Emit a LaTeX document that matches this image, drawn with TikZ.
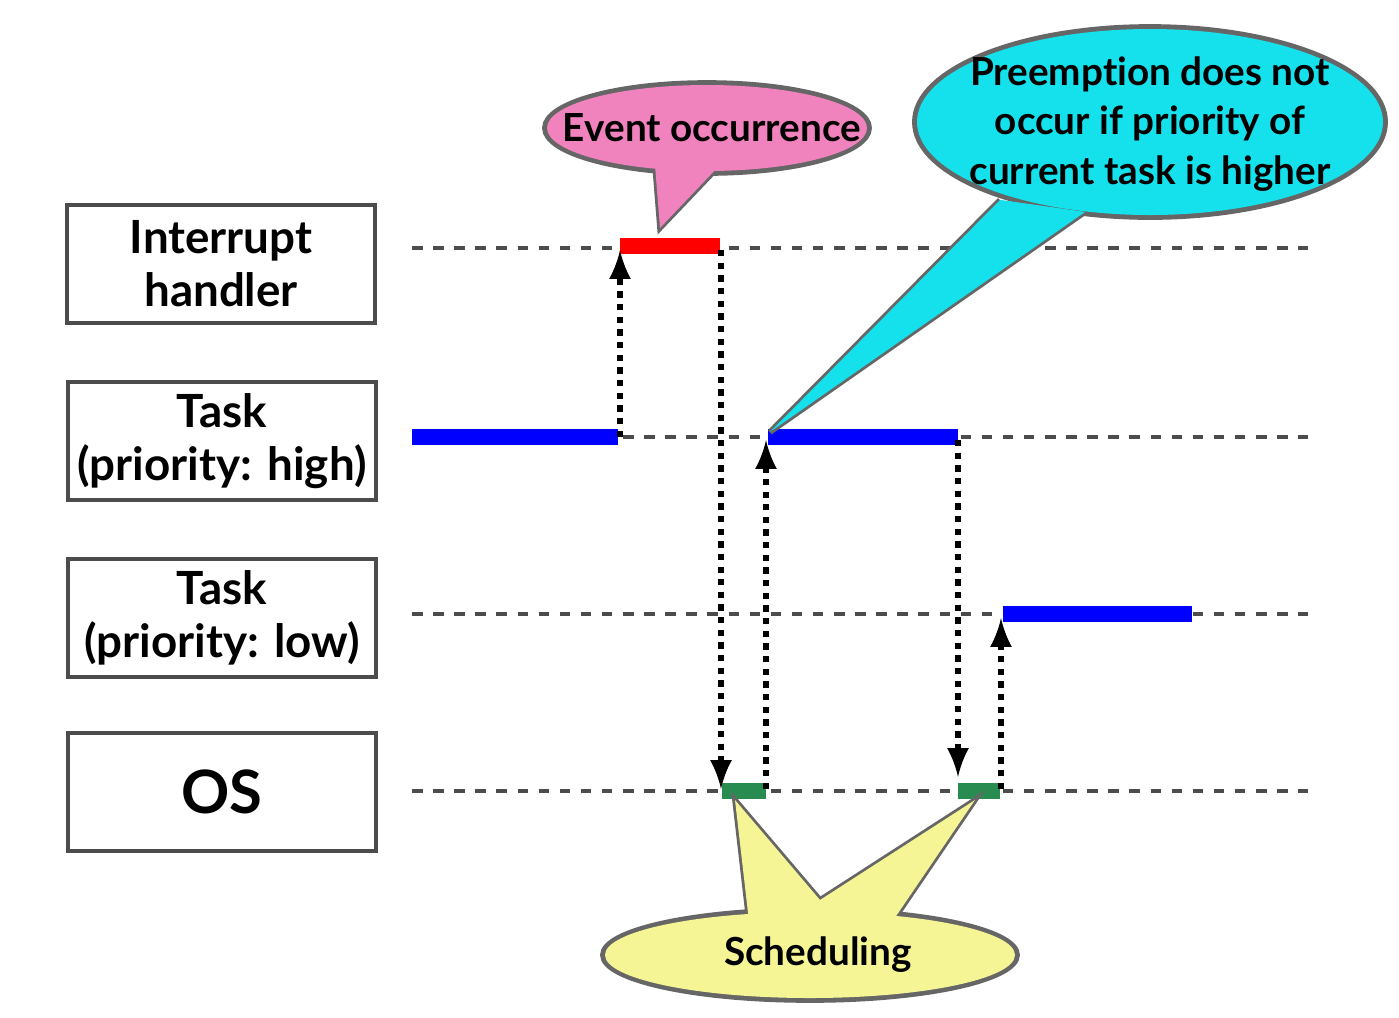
\documentclass[tikz,border=0pt]{standalone}
\usepackage{fontspec}
\setmainfont[Ligatures=NoCommon]{Lato}
\frenchspacing
\usetikzlibrary{shapes.geometric}

\definecolor{evpink}{RGB}{240,130,190}
\definecolor{prcyan}{RGB}{20,225,235}
\definecolor{scyellow}{RGB}{245,245,150}
\definecolor{osgreen}{RGB}{40,140,80}

\tikzset{
  lane/.style={draw=black!70, line width=1.2pt, minimum width=3.08cm, minimum height=1.18cm,
               text width=3cm, align=center, inner sep=0pt, font=\bfseries\fontsize{13}{15}\selectfont},
  guide/.style={black!70, line width=1.1pt, dash pattern=on 3pt off 3pt},
  bar/.style={line width=4.5pt},
  hop/.style={black, line width=1.8pt, dash pattern=on 1.8pt off 1.8pt, -latex},
  bubble/.style={ellipse, draw=black!60, line width=1.6pt, inner sep=0pt},
  say/.style={font=\bfseries\fontsize{11}{14}\selectfont, align=center}
}

\begin{document}
\begin{tikzpicture}[x=0.01cm, y=-0.01cm]
\useasboundingbox (0,0) rectangle (1399,1017);

% lane labels
\node[lane] (irq)  at (221,264) {Interrupt\\handler};
\node[lane] (high) at (222,441) {Task\\(priority: high)};
\node[lane] (low)  at (222,618) {Task\\(priority: low)};
\node[lane] (os)   at (222,792) {\fontsize{17}{19}\selectfont OS};

\foreach \y in {248, 437, 614, 791}
    \draw[guide] (412,\y) -- (1308,\y);

% time line
\draw[bar, red]     (620,246) -- (720,246);
\draw[bar, blue]    (412,437) -- (618,437);
\draw[bar, blue]    (768,437) -- (958,437);
\draw[bar, blue]    (1003,614) -- (1192,614);
\draw[bar, osgreen] (722,791) -- (766,791);
\draw[bar, osgreen] (958,791) -- (1000,791);

\draw[hop] (620,437) -- (620,250);
\draw[hop] (721,250) -- (721,789);
\draw[hop] (766,789) -- (766,440);
\draw[hop] (958,440) -- (958,777);
\draw[hop] (1001,789) -- (1001,618);

% callouts
\coordinate (evtip) at (660,228);
\coordinate (prtip) at (770,432);
\coordinate (sctipa) at (735,800);
\coordinate (sctipb) at (975,800);

\node[bubble, fill=evpink, minimum width=3.24cm, minimum height=0.9cm] (event) at (707,128) {};
\draw[black!60, line width=1.6pt, fill=evpink] (655,165) -- (evtip) -- (720,165);
\node[bubble, fill=prcyan, minimum width=4.7cm, minimum height=1.9cm] (preempt) at (1150,122) {};
\draw[black!60, line width=1.6pt, fill=prcyan] (1000,200) -- (prtip) -- (1085,212);
\node[bubble, fill=scyellow, minimum width=4.14cm, minimum height=0.9cm] (sched) at (810,955) {};
\draw[black!60, line width=1.6pt, fill=scyellow] (750,930) -- (sctipa) -- (820,900) -- (sctipb) -- (890,925);

\fill[evpink] (event.center) ellipse (160 and 43);
\fill[evpink] (655,165) -- (evtip) -- (720,165);
\fill[prcyan] (preempt.center) ellipse (233 and 93);
\fill[prcyan] (1000,200) -- (prtip) -- (1085,212);
\fill[scyellow] (sched.center) ellipse (205 and 43);
\fill[scyellow] (750,930) -- (sctipa) -- (820,900) -- (sctipb) -- (890,925);

\node[say] at (712,128) {Event occurrence};
\node[say] at (1150,124) {Preemption does not\\occur if priority of\\current task is higher};
\node[say] at (818,955) {Scheduling};
\end{tikzpicture}
\end{document}
